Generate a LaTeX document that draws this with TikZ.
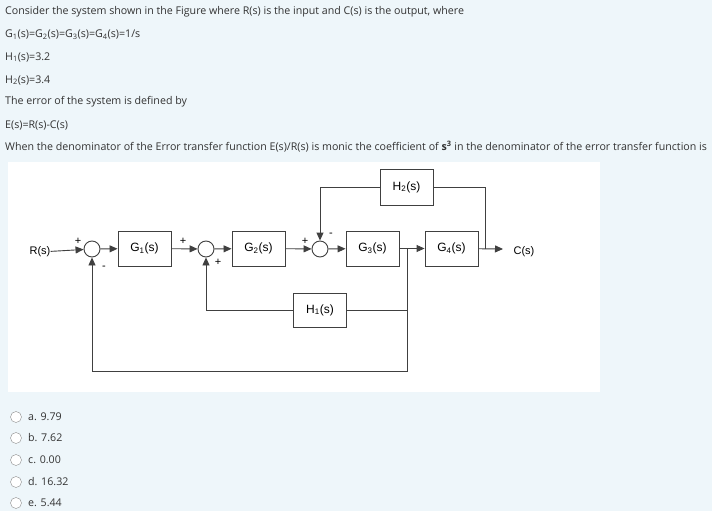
\documentclass[tikz,border=0pt]{standalone}
\usepackage{fontspec}
\setmainfont{Open Sans}
\newfontfamily\arialf{Liberation Sans}
\usetikzlibrary{arrows.meta}
\definecolor{bgc}{HTML}{EEF6FA}
\definecolor{txt}{HTML}{333333}
\begin{document}
\begin{tikzpicture}[x=1pt,y=-1pt,
  q/.style={anchor=west,inner sep=0,text=txt,font=\fontsize{10.65}{12}\selectfont},
  blk/.style={draw=black!75,line width=0.9pt,minimum width=53pt,minimum height=35pt,inner sep=0,font=\arialf\fontsize{12}{13}\selectfont},
  sm/.style={draw=black!75,circle,minimum size=16pt,inner sep=0,line width=0.9pt},
  ln/.style={draw=black!75,line width=0.9pt},
  ar/.style={ln,-{Triangle[length=8pt,width=7pt]}},
  sg/.style={inner sep=0,font=\arialf\fontsize{11}{11}\selectfont},
  lab/.style={inner sep=0,font=\arialf\fontsize{11}{12}\selectfont},
  opt/.style={draw=black!45,circle,minimum size=11pt,inner sep=0,fill=white}]
\fill[bgc] (0,0) rectangle (712,511);
\fill[white] (8,162) rectangle (600,392);
\node[q] (t1) at (5,12) {Consider the system shown in the Figure where R(s) is the input and C(s) is the output, where};
\node[q] (t2) at (5,35) {G\textsubscript{1}(s)=G\textsubscript{2}(s)=G\textsubscript{3}(s)=G\textsubscript{4}(s)=1/s};
\node[q] (t3) at (5,57) {H\textsubscript{1}(s)=3.2};
\node[q] (t4) at (5,80) {H\textsubscript{2}(s)=3.4};
\node[q] (t5) at (5,102) {The error of the system is defined by};
\node[q] (t6) at (5,125) {E(s)=R(s)-C(s)};
\node[q] (t7) at (5,147) {When the denominator of the Error transfer function E(s)/R(s) is monic the coefficient of $\mathbf{s^3}$ in the denominator of the error transfer function is};
% diagram
\node[lab] (R) at (40,252) {R(s)};
\node[sm] (s1) at (92,249) {};
\node[blk] (G1) at (144.5,248.5) {G\textsubscript{1}(s)};
\node[sm] (s2) at (206,249) {};
\node[blk] (G2) at (258.5,248.5) {G\textsubscript{2}(s)};
\node[sm] (s3) at (320,249) {};
\node[blk] (G3) at (372.5,248.5) {G\textsubscript{3}(s)};
\node[blk] (G4) at (451.5,248.5) {G\textsubscript{4}(s)};
\node[blk,minimum height=36pt] (H2) at (406.5,187) {H\textsubscript{2}(s)};
\node[blk,minimum height=34pt] (H1) at (320,310) {H\textsubscript{1}(s)};
\node[lab] (C) at (524,252) {C(s)};
\coordinate (b) at (407,249);
\coordinate (o) at (485,249);
\coordinate (e) at (503,249);
\draw[ar] (R) -- (s1);
\draw[ar] (s1) -- (G1);
\draw[ar] (G1) -- (s2);
\draw[ar] (s2) -- (G2);
\draw[ar] (G2) -- (s3);
\draw[ar] (s3) -- (G3);
\draw[ar] (G3) -- (G4);
\draw[ar] (G4) -- (e);
\draw[ln] (o) |- (H2);
\draw[ar] (H2) -| (s3);
\draw[ln] (b) |- (H1);
\draw[ar] (H1) -| (s2);
\draw[ar] (b) |- (92,371) -- (s1);
\node[sg] at (78,241) {+};
\node[sg] at (104,268) {-};
\node[sg] at (183,241) {+};
\node[sg] at (218,262) {+};
\node[sg] at (305,241) {+};
\node[sg] at (331,235) {-};
% options
\foreach \y/\t [count=\i] in {417/a. 9.79,438/b. 7.62,460/c. 0.00,482/d. 16.32,503/e. 5.44}{
  \node[opt] (c\i) at (16,\y) {};
  \node[q] (o\i) at (28,\y) {\t};
}
\end{tikzpicture}
\end{document}
